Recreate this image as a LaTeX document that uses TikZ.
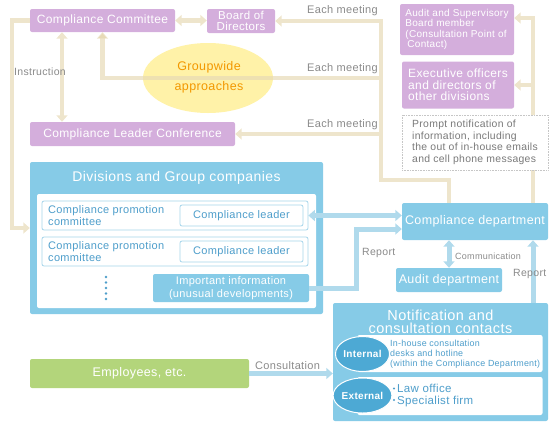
\documentclass[tikz,border=0pt]{standalone}
\usepackage{fontspec}
\setmainfont{Liberation Sans}[LetterSpace=3]
\usetikzlibrary{arrows.meta,shapes.geometric}
\definecolor{mauve}{HTML}{D4AEDC}
\definecolor{beige}{HTML}{EEE5CC}
\definecolor{beigevoile}{HTML}{E7DAB6}
\definecolor{bleu}{HTML}{86CBE7}
\definecolor{bleufleche}{HTML}{B0DAEC}
\definecolor{bleubord}{HTML}{A6D5EB}
\definecolor{bleufonce}{HTML}{4DA9D4}
\definecolor{textebleu}{HTML}{4E9ECB}
\definecolor{vert}{HTML}{B3D57B}
\definecolor{jaune}{HTML}{FFF2A8}
\definecolor{orangeG}{HTML}{F39800}
\definecolor{gris}{HTML}{8A8A8A}
\newcommand\taille[2]{\fontsize{#1}{#2}\selectfont}
\tikzset{
  boitemauve/.style={fill=mauve, rounded corners=2pt, text=white, inner sep=0pt},
  boitebleue/.style={fill=bleu, rounded corners=2pt, text=white, inner sep=0pt},
  boiteblanche/.style={fill=white, draw=bleubord, line width=0.8pt, rounded corners=2pt, inner sep=0pt},
  traitbeige/.style={draw=beige, line width=4.5pt},
  traitbleu/.style={draw=bleufleche, line width=5pt},
  fleche/.style={-{Triangle[width=11pt,length=6.5pt]}},
  doublefleche/.style={{Triangle[width=11pt,length=6.5pt]}-{Triangle[width=11pt,length=6.5pt]}},
  legende/.style={text=gris, inner sep=0pt},
  bulle/.style={ellipse, fill=bleufonce, draw=white, line width=1pt, text=white, inner sep=0pt, minimum width=47pt, minimum height=35pt, font=\taille{10}{11}\bfseries},
}
\begin{document}
\begin{tikzpicture}[x=1pt,y=-1pt]
\useasboundingbox (0,0) rectangle (556,429);
% boites du haut
\node[boitemauve, minimum width=145pt, minimum height=23pt, font=\taille{12}{13}] (cc) at (102.5,20.5) {Compliance Committee}; %Comite
\node[boitemauve, minimum width=68pt, minimum height=24pt, align=center, font=\taille{11.5}{11.5}] (bod) at (241,21) {Board of\\Directors}; %Conseil
\node[boitemauve, minimum width=114pt, minimum height=51pt, align=left, font=\taille{10}{10.5}] (asb) at (457,29.5) {Audit and Supervisory\\Board member\\(Consultation Point of\\\hspace{2pt}Contact)}; %Audit
\node[boitemauve, minimum width=112pt, minimum height=47pt, align=left, font=\taille{12}{11.5}] (exe) at (458,85) {Executive officers\\and directors of\\other divisions}; %Direction
\node[boitemauve, minimum width=205pt, minimum height=24pt, font=\taille{12}{13}] (clc) at (132.5,134) {Compliance Leader Conference}; %Conference
% divisions
\node[boitebleue, minimum width=293pt, minimum height=152pt] (div) at (176.5,238) {}; %Divisions
\node[text=white, inner sep=0pt, font=\taille{14}{15}] (divtitre) at (176.5,178) {Divisions and Group companies};
\node[fill=white, rounded corners=2pt, minimum width=279pt, minimum height=114pt] (panneau) at (176.5,251) {};
\node[boiteblanche, minimum width=266pt, minimum height=29pt] (ligne1) at (175,215.5) {};
\node[anchor=west, align=left, inner sep=0pt, text=textebleu, font=\taille{11}{12}] (prom1) at (48,215.5) {Compliance promotion\\committee};
\node[boiteblanche, minimum width=123pt, minimum height=21pt, text=textebleu, font=\taille{11}{12}] (chef1) at (241.5,215.5) {Compliance leader};
\node[boiteblanche, minimum width=266pt, minimum height=29pt] (ligne2) at (175,251.5) {};
\node[anchor=west, align=left, inner sep=0pt, text=textebleu, font=\taille{11}{12}] (prom2) at (48,251.5) {Compliance promotion\\committee};
\node[boiteblanche, minimum width=123pt, minimum height=21pt, text=textebleu, font=\taille{11}{12}] (chef2) at (241.5,251.5) {Compliance leader};
\draw[textebleu, line width=2.6pt, line cap=round, dash pattern=on 0pt off 5.5pt] (106,277) -- (106,300); %Points
\node[boitebleue, minimum width=156pt, minimum height=28pt, align=center, font=\taille{11}{12.5}] (info) at (231,288) {Important information\\(unusual developments)};
% service conformite
\node[boitebleue, minimum width=146pt, minimum height=37pt, font=\taille{12.5}{14}] (dept) at (475,221.5) {Compliance department};
\node[boitebleue, minimum width=106pt, minimum height=24pt, font=\taille{12.5}{13}] (audit) at (449,280) {Audit department};
% contacts
\node[boitebleue, minimum width=215pt, minimum height=118pt] (notif) at (440.5,362) {};
\node[text=white, inner sep=0pt, align=center, font=\taille{14.5}{13}] (notiftitre) at (440.5,321.5) {Notification and\\consultation contacts};
\node[fill=white, rounded corners=2pt, minimum width=185pt, minimum height=37pt] (rangint) at (450,353.5) {};
\node[fill=white, rounded corners=2pt, minimum width=185pt, minimum height=38pt] (rangext) at (450,396) {};
\node[bulle] (interne) at (362.5,354) {Internal};
\node[bulle] (externe) at (362.5,395.5) {External};
\node[anchor=west, align=left, inner sep=0pt, text=textebleu, font=\taille{8.9}{10.3}] (txtint) at (390,354) {In-house consultation\\desks and hotline\\(within the Compliance Department)};
\node[anchor=west, align=left, inner sep=0pt, text=textebleu, font=\taille{11.5}{11.5}] (txtext) at (397,395.5) {Law office\\Specialist firm};
\fill[textebleu] (394,388.5) circle (1.2pt) (394,400) circle (1.2pt); %Puces
\node[fill=vert, rounded corners=2pt, text=white, minimum width=219pt, minimum height=29pt, inner sep=0pt, font=\taille{12.5}{13}] (emp) at (139.5,373.5) {Employees, etc.};
% reperes
\coordinate (jA) at (381,180);
\coordinate (colD) at (533,180);
\coordinate (instr) at (62,78);
\coordinate (coinG) at (12,228);
\coordinate (coudeR) at (356,260);
\coordinate (grpc) at (208,78);
% fleches beiges
\node[ellipse, fill=jaune, minimum width=130pt, minimum height=70pt, inner sep=0pt] (grp) at (grpc) {}; %Ellipse
\draw[draw=beigevoile, draw opacity=0.7, line width=4.5pt, fleche, shorten <=2.25pt] (jA |- grpc) -| (cc.south); %Passe dans l'ellipse
\node[text=orangeG, align=center, inner sep=0pt, font=\taille{12.5}{20}] (grptxt) at (209,77.5) {Groupwide\\approaches};
\draw[traitbeige, fleche] (audit.north |- dept.north) |- (jA) |- (bod.east); %Chaque reunion
\draw[traitbeige, fleche] (jA |- clc.east) -- (clc.east);
\draw[traitbeige, doublefleche] (cc.east) -- (cc.east -| bod.west);
\draw[traitbeige, doublefleche] (cc.south -| instr) -- (clc.north -| instr);
\draw[traitbeige, fleche] (cc.west) -| (coinG) -- (coinG -| div.west); %Instruction
\draw[traitbeige, fleche] (colD |- dept.north) |- ([yshift=11.5pt]asb.east);
\draw[traitbeige, fleche] (colD |- exe.east) -- (exe.east);
\node[draw=gray!45, densely dotted, line width=0.6pt, fill=white, minimum width=146pt, minimum height=55pt, inner sep=0pt, align=left, text=gray!95!black, font=\taille{10.4}{11.5}] (prompt) at (475,142.5) {Prompt notification of\\information, including\\the out of in-house emails\\and cell phone messages}; %Note par-dessus
% fleches bleues
\draw[traitbleu, doublefleche] (ligne1.east) -- (ligne1.east -| dept.west);
\draw[traitbleu, fleche] (info.east) -- (info.east -| coudeR) |- ([yshift=-7.5pt]dept.west);
\draw[traitbleu, doublefleche] (audit.north |- dept.south) -- (audit.north);
\draw[traitbleu, fleche] (colD |- notif.north) -- (colD |- dept.south);
\draw[traitbleu, fleche] (emp.east) -- (emp.east -| notif.west);
% legendes
\node[legende, anchor=east, font=\taille{11}{12}] (reu1) at (378,11) {Each meeting};
\node[legende, anchor=east, font=\taille{11}{12}] (reu2) at (378,69) {Each meeting};
\node[legende, anchor=east, font=\taille{11}{12}] (reu3) at (378,125) {Each meeting};
\node[legende, anchor=west, font=\taille{10.5}{12}] (ins) at (14,72) {Instruction};
\node[legende, anchor=west, font=\taille{10.5}{12}] (rep1) at (362,253) {Report};
\node[legende, anchor=west, font=\taille{10.5}{12}] (rep2) at (513,274) {Report};
\node[legende, anchor=west, font=\taille{9}{10}] (com) at (455,256) {Communication};
\node[legende, anchor=west, font=\taille{11}{12}] (cons) at (255,366) {Consultation};
\end{tikzpicture}
\end{document}
